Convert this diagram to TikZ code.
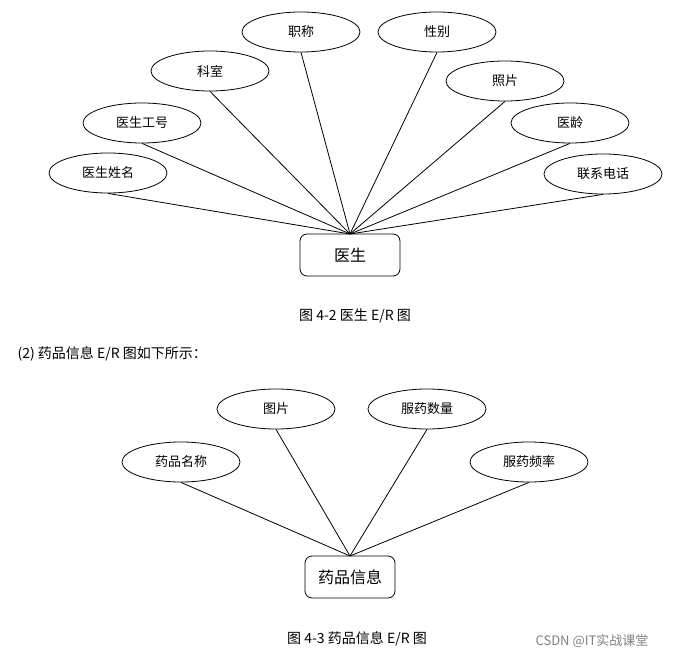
\documentclass[tikz,border=0pt]{standalone}
\usepackage{fontspec}
\usetikzlibrary{shapes.geometric}
\newfontfamily\cjk{Noto Sans CJK SC}
\begin{document}
\begin{tikzpicture}[x=1pt,y=-1pt,
 attr/.style={draw,thick,ellipse,minimum width=118pt,minimum height=40pt,inner sep=0pt,font=\cjk\fontsize{13}{15}\selectfont},
 ent/.style={draw,thick,rounded corners=7pt,minimum width=100pt,minimum height=42pt,font=\cjk\fontsize{16}{18}\selectfont},
 captext/.style={font=\cjk\fontsize{14}{16}\selectfont},
 link/.style={thick}]
\useasboundingbox (0,0) rectangle (694,660);
\node[ent] (doc) at (350,255) {医生};
\coordinate (dt) at (350,234);
\foreach \n/\x/\y/\t in {a/108/173/医生姓名,b/142/123/医生工号,c/210/71/科室,d/301/32/职称,e/437/32/性别,f/505/81/照片,g/570/123/医龄,h/603/174/联系电话}{
 \node[attr] (\n) at (\x,\y) {\t};
 \draw[link] (\n.south) -- (dt);
}
\node[captext] (c1) at (355,316) {图 4-2 医生 E/R 图};
\node[captext,anchor=west] (c2) at (14,354) {(2) 药品信息 E/R 图如下所示：};
\node[ent,minimum width=90pt] (med) at (350,577) {药品信息};
\coordinate (mt) at (350,556);
\foreach \n/\x/\y/\t in {p/181/462/药品名称,q/276/409/图片,r/427/409/服药数量,s/529/462/服药频率}{
 \node[attr] (\n) at (\x,\y) {\t};
 \draw[link] (\n.south) -- (mt);
}
\node[captext] (c3) at (357,639) {图 4-3 药品信息 E/R 图};
\node[font=\cjk\fontsize{13}{15}\selectfont,text=gray] (wm) at (592,641) {CSDN @IT实战课堂};
\end{tikzpicture}
\end{document}
